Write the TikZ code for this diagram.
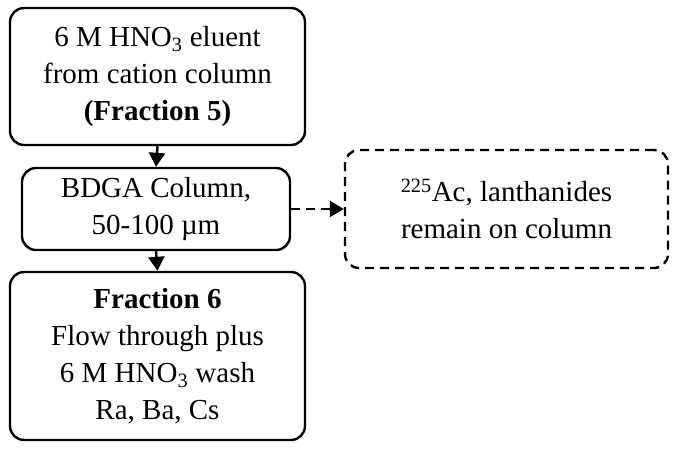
\documentclass[tikz,border=0pt]{standalone}
\usepackage{fontspec}
\setmainfont{Liberation Serif}
\usetikzlibrary{arrows.meta}
\begin{document}
\begin{tikzpicture}[x=1pt,y=1pt,
  box/.style={draw,line width=2.4pt,rounded corners=14pt,align=center,inner sep=0pt,font=\fontsize{29}{37}\selectfont},
  arr/.style={line width=2.4pt,-{Triangle[length=14pt,width=16pt]}}]
\useasboundingbox (0,0) rectangle (675,450);
\node[box,minimum width=295pt,minimum height=137pt] (a) at (157.5,373.5) {6 M HNO\textsubscript{3} eluent\\from cation column\\\textbf{(Fraction 5)}};
\node[box,minimum width=268pt,minimum height=82pt] (b) at (156,241) {BDGA Column,\\50-100 µm};
\node[box,minimum width=295pt,minimum height=168pt] (c) at (157.5,94) {\textbf{Fraction 6}\\Flow through plus\\6 M HNO\textsubscript{3} wash\\Ra, Ba, Cs};
\node[box,dashed,dash pattern=on 9pt off 6pt,minimum width=323pt,minimum height=118pt] (d) at (506.5,241) {\textsuperscript{225}Ac, lanthanides\\remain on column};
\draw[arr] (a.south) -- (b.north);
\draw[arr] (b.south) -- (c.north);
\draw[arr,dash pattern=on 9pt off 6pt] (b.east) -- (d.west);
\end{tikzpicture}
\end{document}
